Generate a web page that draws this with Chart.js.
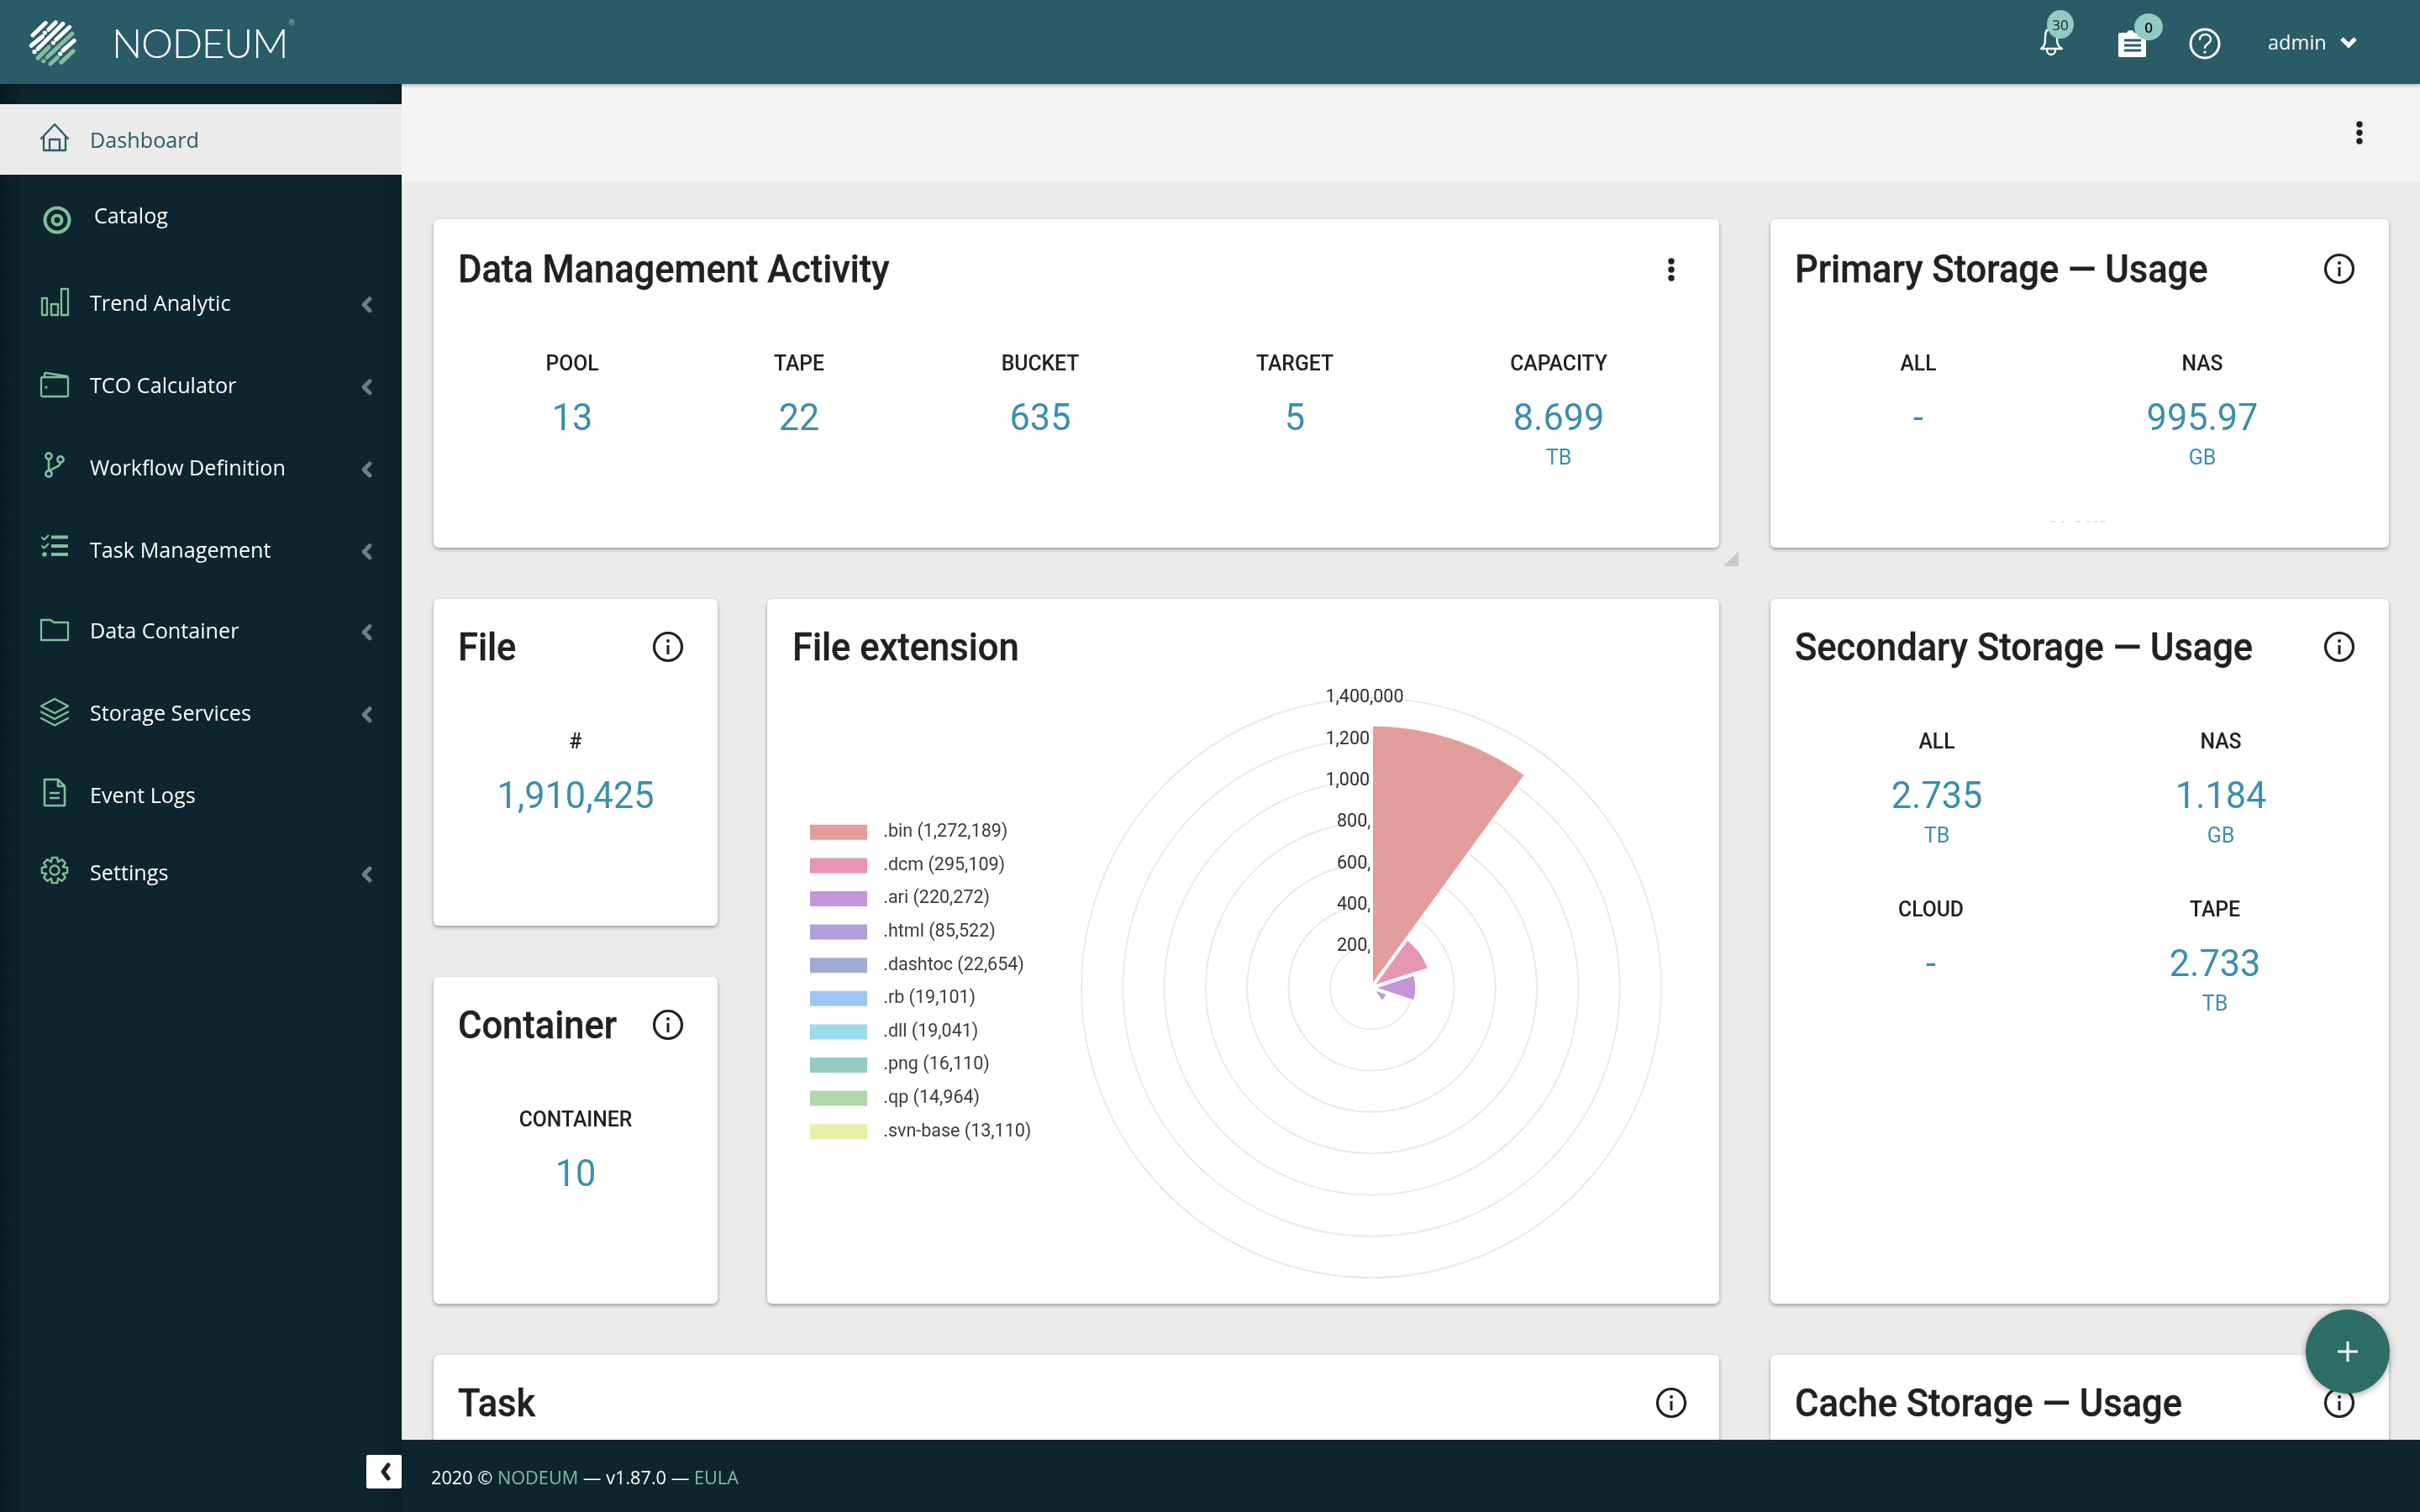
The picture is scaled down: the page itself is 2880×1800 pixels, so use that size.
<![CDATA[<!DOCTYPE html>
<html><head><meta charset="utf-8">
<script src="https://cdn.jsdelivr.net/npm/chart.js@4/dist/chart.umd.js"></script>
<style>
html,body{margin:0;padding:0;width:2880px;height:1800px;overflow:hidden;background:#ebebeb;font-family:Roboto,sans-serif}
#page{position:relative;width:2880px;height:1800px;overflow:hidden}
.abs{position:absolute}
.box{position:absolute;background:#fff;border-radius:6px;box-shadow:0 2px 4px rgba(0,0,0,.35)}
.t{position:absolute;white-space:nowrap;line-height:1}
.c{transform:translate(-50%,-50%) scaleX(var(--sx,1))}
.l{transform:translateY(-50%) scaleX(var(--sx,1));transform-origin:left center}
.title{font:500 46px Roboto;color:#212121;--sx:.945;-webkit-text-stroke:.35px #212121}
.lab{font:500 26px Roboto;color:#212121;--sx:.95}
.val{font:400 45px Roboto;color:#3d8eab;--sx:.96}
.unit{font:400 25px Roboto;color:#3d8eab}
.nav{font:400 25.2px "Open Sans";color:#fff}
svg{position:absolute;overflow:visible}
</style></head>
<body><div id="page">
<div class="abs" style="left:478px;top:100px;width:2402px;height:116px;background:#f4f4f4"></div>
<div class="abs" id="side" style="left:0;top:100px;width:478px;height:1700px;background:linear-gradient(90deg,#071a20 0,#0d252c 30px,#0d252c 450px,#0a1f25 478px)"></div>
<div class="abs" style="left:0;top:124px;width:478px;height:84px;background:#ebebeb"></div>
<div class="abs" style="left:0;top:0;width:2880px;height:100px;background:#2a5c67;box-shadow:0 2px 4px rgba(0,0,0,.25)"></div>

<div class="box" style="left:516px;top:261px;width:1530px;height:391px"></div>
<div class="box" style="left:2107px;top:261px;width:736px;height:391px"></div>
<div class="box" style="left:516px;top:712.5px;width:338px;height:389.5px"></div>
<div class="box" style="left:516px;top:1162.5px;width:338px;height:389.5px"></div>
<div class="box" style="left:913px;top:712.5px;width:1133px;height:839.5px"></div>
<div class="box" style="left:2107px;top:712.5px;width:736px;height:839.5px"></div>
<div class="box" style="left:516px;top:1613px;width:1530px;height:200px"></div>
<div class="box" style="left:2107px;top:1613px;width:736px;height:200px"></div>

<div class="abs" style="left:940px;top:790px;width:1106px;height:733px;overflow:hidden">
  <canvas id="chart" width="1106" height="760" style="display:block;width:1106px;height:760px"></canvas>
</div>

<svg class="abs" style="left:0;top:0" width="2880" height="1800" id="icons"></svg>
<div id="texts"></div>

<div class="abs" style="left:478px;top:1714px;width:2402px;height:86px;background:#0d252c"></div>
<div class="abs" style="left:436px;top:1732px;width:42px;height:40px;background:#fff;border-radius:2px"></div>
<svg class="abs" style="left:0;top:0" width="2880" height="1800" id="icons2"></svg>
<div id="texts2"></div>
</div>
<script>
// ---- chart data ----
const categories = ['.bin','.dcm','.ari','.html','.dashtoc','.rb','.dll','.png','.qp','.svn-base'];
const fileCounts = [1272189,295109,220272,85522,22654,19101,19041,16110,14964,13110];
const sliceColors = ['#e39e9c','#e795b2','#c397d7','#b09fd9','#a1a9d7','#9cc7f5','#98dde9','#92cbc4','#aed8a9','#e8f0a8'];
const tickMax = 1400000;
const tickStep = 200000;

const fmt = v => v.toLocaleString('en-US');
const BOX_PAD = 17;
new Chart(document.getElementById('chart'), {
  type: 'polarArea',
  data: {
    labels: categories.map((c,i) => c + ' (' + fmt(fileCounts[i]) + ')'),
    datasets: [{ data: fileCounts, backgroundColor: sliceColors, borderColor: '#fff', borderWidth: 4 }]
  },
  options: {
    responsive: false, animation: false, devicePixelRatio: 1,
    layout: { padding: { top: 29.5, bottom: 17.5, left: 0, right: 8 } },
    scales: { r: {
      min: 0, max: tickMax,
      grid: { color: '#e9e9e9', lineWidth: 2 },
      ticks: { stepSize: tickStep, showLabelBackdrop: false, backdropPadding: 0, color: '#2f2f2f',
        font: { family: 'Roboto', size: 21.5 },
        callback: v => fmt(v) + (v >= 1000000 ? '\u00A0\u00A0\u00A0' : '\u00A0') }
    } },
    plugins: {
      tooltip: { enabled: false },
      legend: { display: true, position: 'left', align: 'start',
        labels: { boxWidth: 85, boxHeight: 35, padding: 4.6, color: '#3c3c3c', font: { family: 'Roboto', size: 21.5 },
          generateLabels(chart) {
            const items = Chart.PolarAreaController.overrides.plugins.legend.labels.generateLabels(chart);
            items.forEach(it => { it.lineWidth = BOX_PAD; it.strokeStyle = '#fff'; });
            return items;
          } } }
    }
  },
  plugins: [{ id: 'legendPlace', afterLayout(chart) {
    const lg = chart.legend; lg.left = 10.9; lg.top = 178.7;
  } }]
});

// ---- page chrome ----
function T(host,x,y,s,cls,extra){const d=document.createElement('div');d.className='t '+cls;d.style.left=x+'px';d.style.top=y+'px';d.innerHTML=s;if(extra)d.style.cssText+=extra;document.getElementById(host).appendChild(d);}
const add=(x,y,s,cls,e)=>T('texts',x,y,s,cls+' c',e), addL=(x,y,s,cls,e)=>T('texts',x,y,s,cls+' l',e);
[[545,320,'Data Management Activity'],[2136,320,'Primary Storage — Usage'],[545,770,'File'],[545,1220,'Container'],[943,770,'File extension'],[2136,770,'Secondary Storage — Usage'],[545,1670,'Task'],[2136,1670,'Cache Storage — Usage']].forEach(a=>addL(a[0],a[1],a[2],'title'));
[[681,'POOL','13',''],[951,'TAPE','22',''],[1238,'BUCKET','635',''],[1541,'TARGET','5',''],[1855,'CAPACITY','8.699','TB'],[2283,'ALL','-',''],[2621,'NAS','995.97','GB']].forEach(a=>{add(a[0],431.5,a[1],'lab');add(a[0],496,a[2],'val');if(a[3])add(a[0],543.5,a[3],'unit');});
add(685,881.5,'#','lab');add(685,946,'1,910,425','val');
add(685,1331.5,'CONTAINER','lab');add(685,1396,'10','val');
[[2305,'ALL','2.735','TB'],[2643,'NAS','1.184','GB']].forEach(a=>{add(a[0],881.5,a[1],'lab');add(a[0],946,a[2],'val');add(a[0],993.5,a[3],'unit');});
[[2298,'CLOUD','-',''],[2636,'TAPE','2.733','TB']].forEach(a=>{add(a[0],1081.5,a[1],'lab');add(a[0],1146,a[2],'val');if(a[3])add(a[0],1193.5,a[3],'unit');});
[['Dashboard',107,166],['Catalog',112,256],['Trend Analytic',107,360],['TCO Calculator',107,458],['Workflow Definition',107,556],['Task Management',107,654],['Data Container',107,750],['Storage Services',107,848],['Event Logs',107,946],['Settings',107,1038]].forEach((a,i)=>addL(a[1],a[2],a[0],'nav',i==0?'color:#2a5c67':''));
addL(133,50,'NODEUM','', 'font:300 48px Lato;color:#fff;letter-spacing:-1.3px');
add(347,27,'®','', 'font:400 9px Roboto;color:#9fb6bb');
addL(2699,50,'admin','nav','font-size:23.6px');
add(2452,29,'30','', 'font:400 17px "Open Sans";color:#222');
add(2557,32,'0','', 'font:600 17px "Open Sans";color:#111');
T('texts2',513,1758,'2020 © <span style="color:#7fbf9e">NODEUM</span> — v1.87.0 — <span style="color:#7fbf9e">EULA</span>','l','font:400 21.7px "Open Sans";color:#fff');

let s='';
const G='#7fbf9e';
// logo
s+='<g stroke-linecap="round" fill="none" stroke-width="5">';
[[39,42,54.3,27.3],[57.7,35.3,66.3,26.7],[37.3,54.3,50.7,43.3],[45,58.3,75,28.3],[66.7,47.3,82.7,32.3],[75,60,88.3,48.3]].forEach(l=>s+=`<line x1="${l[0]}" y1="${l[1]}" x2="${l[2]}" y2="${l[3]}" stroke="#fff"/>`);
[[45,69.3,58.3,56],[56,68.3,86,40],[60,76,68.3,68.3],[72.7,74.3,87.3,60.7]].forEach(l=>s+=`<line x1="${l[0]}" y1="${l[1]}" x2="${l[2]}" y2="${l[3]}" stroke="${G}"/>`);
s+='</g>';
[[53.3,39,'#fff'],[63.3,51,'#fff'],[41,61.7,'#fff'],[71.7,64,'#fff'],[51.7,72.7,G]].forEach(d=>s+=`<circle cx="${d[0]}" cy="${d[1]}" r="2.6" fill="${d[2]}"/>`);
// nav icons
const st=(c,w=2.3)=>`fill="none" stroke="${c}" stroke-width="${w}" stroke-linejoin="round" stroke-linecap="round"`;
s+=`<path d="M49 165 L65 148 L81 165 M52 162 V179 H78 V162 M59 179 V166 H71 V179" ${st('#2a5c67')}/>`;
s+=`<circle cx="68" cy="262" r="14.5" ${st(G,4)}/><circle cx="68" cy="262" r="5.5" ${st(G,4)}/>`;
s+=`<path d="M50 375V355h6v20zM61 375V362h8v13zM73 375V344h8v31z" ${st(G)}/>`;
s+=`<path d="M51 449h28a2 2 0 0 1 2 2v19a2 2 0 0 1-2 2h-28a2 2 0 0 1-2-2v-19a2 2 0 0 1 2-2z M53 449V445Q53 444 55 444L80 448" ${st(G)}/><circle cx="55" cy="461" r="1.6" fill="${G}"/>`;
s+=`<circle cx="58" cy="543" r="3.6" ${st(G,2.6)}/><circle cx="58" cy="564" r="3.6" ${st(G,2.6)}/><circle cx="72" cy="547" r="3.6" ${st(G,2.6)}/><path d="M58 547V560 M72 551C72 556 64 556 60 560" ${st(G,2.6)}/>`;
s+=`<path d="M50 640l2.5 2.5 5-5 M50 650l2.5 2.5 5-5" ${st(G,2)}/><circle cx="53" cy="660" r="2.8" fill="${G}"/><path d="M61 639.5H81 M61 650H81 M61 660H81" fill="none" stroke="${G}" stroke-width="4"/>`;
s+=`<path d="M49 762V738H60L64 741H81V762z" ${st(G)}/>`;
s+=`<path d="M65 832L81 840.5L65 849L49 840.5z M49 847.5L65 856L81 847.5 M49 855L65 863.5L81 855" ${st(G)}/>`;
s+=`<path d="M53 928H69L77 936V959H53z M69 928V936H77" ${st(G,2.6)}/><path d="M59 944H71M59 950H71" fill="none" stroke="${G}" stroke-width="2.6"/>`;
// settings gear outline
{let d='';const n=8,cx=65,cy=1036;for(let i=0;i<n;i++){const a=i*2*Math.PI/n-Math.PI/2,g=[[10.5,a-.39],[15.5,a-.2],[15.5,a+.2],[10.5,a+.39]];g.forEach((p,j)=>{d+=(i==0&&j==0?'M':'L')+(cx+p[0]*Math.cos(p[1])).toFixed(1)+' '+(cy+p[0]*Math.sin(p[1])).toFixed(1);});}
 s+=`<path d="${d}z" ${st(G)}/><circle cx="65" cy="1036" r="5.5" ${st(G)}/>`;}
[362.7,460.7,559,656.7,752.7,850.7,1041].forEach(y=>s+=`<path d="M440 ${y-7}L433 ${y}L440 ${y+7}" fill="none" stroke="#6e7e80" stroke-width="5" stroke-linecap="round" stroke-linejoin="round"/>`);
// top bar
s+=`<path d="M2429 58c5-3 5-8 5-14 0-7 3-10 7-10s7 3 7 10c0 6 0 11 6 14z M2436 60a5 5 0 0 0 10 0" ${st('#fff')}/>`;
s+=`<ellipse cx="2452" cy="29" rx="16" ry="17" fill="#8fcbc3"/>`;
s+=`<path d="M2521 41a2 2 0 0 1 2-2h8c1-4 8-4 9 0h12a2 2 0 0 1 2 2v25a2 2 0 0 1-2 2h-29a2 2 0 0 1-2-2z" fill="#fff"/><path d="M2528 48h20M2528 54h20M2528 60h20" stroke="#2a5c67" stroke-width="3"/>`;
s+=`<ellipse cx="2557" cy="32" rx="17" ry="16" fill="#8fcbc3"/>`;
s+=`<circle cx="2624" cy="52" r="17" ${st('#fff',3)}/><path d="M2618 47c0-8 13-8 13 0 0 5-7 5-7 10" ${st('#fff')}/><circle cx="2624" cy="62" r="1.6" fill="#fff"/>`;
s+=`<path d="M2787 46L2795 54L2803 46" fill="none" stroke="#fff" stroke-width="5"/>`;
const dots=(x,y)=>[-10,0,10].map(d=>`<circle cx="${x}" cy="${y+d}" r="3.7" fill="#212121"/>`).join('');
s+=dots(2808,158)+dots(1989,321);
[[2784,320],[795,770],[795,1220],[2784,770],[1989,1670],[2784,1670]].forEach(p=>{s+=`<circle cx="${p[0]}" cy="${p[1]}" r="16.5" fill="none" stroke="#212121" stroke-width="3.2"/><circle cx="${p[0]}" cy="${p[1]-7}" r="2" fill="#212121"/><rect x="${p[0]-1.5}" y="${p[1]-2}" width="3" height="11" fill="#212121"/>`;});
s+=`<path d="M2069 656V674H2051z" fill="#c9c9c9"/>`;
[[2441,5],[2453,4],[2470,5],[2483,4],[2493,3],[2500,6]].forEach(r=>s+=`<rect x="${r[0]}" y="620.5" width="${r[1]}" height="1" fill="#c4c4c4"/>`);
document.getElementById('icons').innerHTML=s;
document.getElementById('icons2').innerHTML=`<path d="M462 1744L456 1752L462 1760" fill="none" stroke="#222" stroke-width="5" stroke-linejoin="round" stroke-linecap="round"/><circle cx="2794" cy="1609" r="50" fill="#2c6e66" style="filter:drop-shadow(0 2px 4px rgba(0,0,0,.35))"/><path d="M2794 1597V1621M2782 1609H2806" stroke="#fff" stroke-width="3"/>`;
</script>
</body></html>]]>
